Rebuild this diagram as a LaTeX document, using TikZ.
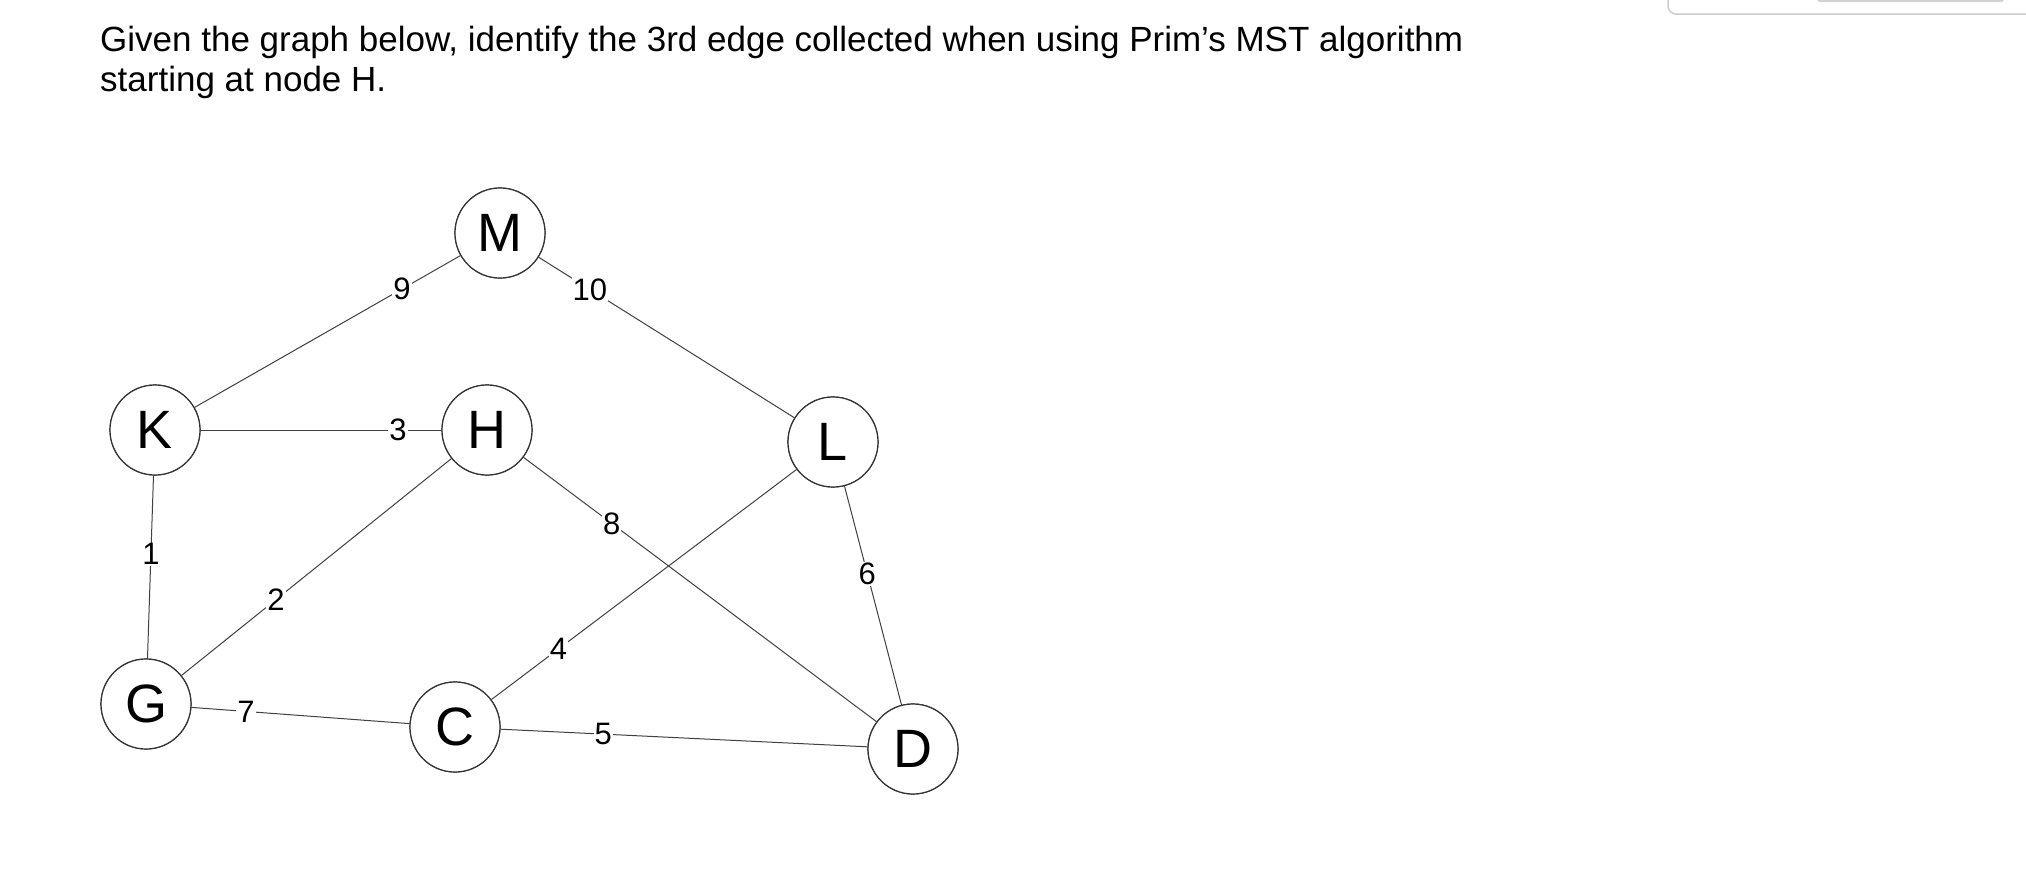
\documentclass[tikz,border=0pt]{standalone}
\usepackage{fontspec}
\setmainfont{Liberation Sans}
\begin{document}
\begin{tikzpicture}[x=1pt,y=-1pt,
  vert/.style={circle,draw=black!80,line width=1.2pt,minimum size=90pt,inner sep=0pt,font=\fontsize{54}{60}\selectfont,fill=white},
  edge/.style={draw=black!75,line width=1pt},
  wt/.style={fill=white,inner sep=1pt,font=\fontsize{31}{34}\selectfont}]
\useasboundingbox (0,0) rectangle (2026,870);
\draw[black!20,line width=1.5pt,rounded corners=8pt] (1668,-20) rectangle (2040,14);
\fill[black!18,rounded corners=3pt] (1817,-10) rectangle (2004,2);
\node[anchor=north west,align=left,font=\fontsize{35}{40}\selectfont,inner sep=0pt] (q) at (100,26)
 {Given the graph below, identify the 3rd edge collected when using Prim's MST algorithm\\starting at node H.};
\node[vert] (M) at (500,233) {M};
\node[vert] (H) at (487,430) {H};
\node[vert] (K) at (155,430) {K};
\node[vert] (L) at (833,442) {L};
\node[vert] (G) at (146,704) {G};
\node[vert] (C) at (455,727) {C};
\node[vert] (D) at (913,749) {D};
\begin{scope}[on background layer/.try]
\end{scope}
\path[edge] (K) -- node[wt,pos=0.78] (w9) {9} (M);
\path[edge] (M) -- node[wt,pos=0.2] (w10) {10} (L);
\path[edge] (K) -- node[wt,pos=0.82] (w3) {3} (H);
\path[edge] (H) -- node[wt,pos=0.25] (w8) {8} (D);
\path[edge] (K) -- node[wt,pos=0.43] (w1) {1} (G);
\path[edge] (L) -- node[wt,pos=0.4] (w6) {6} (D);
\path[edge] (G) -- node[wt,pos=0.35] (w2) {2} (H);
\path[edge] (C) -- node[wt,pos=0.22] (w4) {4} (L);
\path[edge] (G) -- node[wt,pos=0.25] (w7) {7} (C);
\path[edge] (C) -- node[wt,pos=0.28] (w5) {5} (D);
\foreach \n/\t in {M/M,H/H,K/K,L/L,G/G,C/C,D/D} \node[vert] at (\n) {\t};
\end{tikzpicture}
\end{document}
